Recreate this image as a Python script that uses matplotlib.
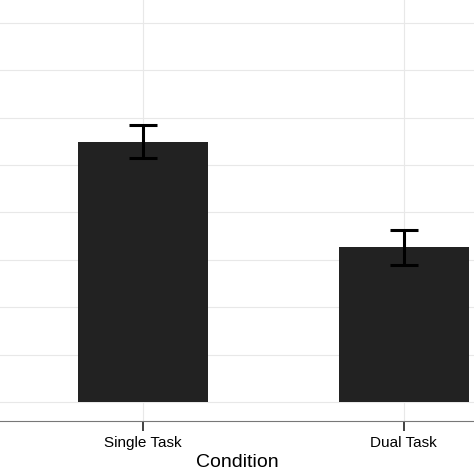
import matplotlib
matplotlib.use("Agg")
import matplotlib.pyplot as plt
import numpy as np

conditions = ["Single Task", "Dual Task"]
means = [5.49, 3.26]
errors = [0.35, 0.36]

fig = plt.figure(figsize=(4.74, 4.74), dpi=100)
ax = fig.add_axes([0, 1 - 421/474, 1, 421/474])
x = np.arange(1, len(conditions) + 1)
ax.bar(x, means, width=0.5, color="#222222", zorder=3)
ax.errorbar(x, means, yerr=errors, fmt="none", ecolor="black", elinewidth=2.2,
            capsize=10, capthick=2.2, zorder=4)
ax.set_xlim(0.45, 2.27)
ax.set_ylim(-0.4, 8.48)
ax.set_yticks(np.arange(0, 9, 1))
ax.set_yticklabels([])
ax.tick_params(axis="y", length=0)
ax.set_xticks(x)
ax.set_xticklabels(conditions, fontsize=11, family="Liberation Sans")
ax.tick_params(axis="x", length=7, width=1.3, color="#333333", pad=4)
ax.grid(True, color="#e8e8e8", linewidth=0.8, zorder=0)
for s in ["top", "right", "left"]:
    ax.spines[s].set_visible(False)
ax.spines["bottom"].set_color("#777777")
ax.set_xlabel("Condition", fontsize=14, family="Liberation Sans", labelpad=3)
fig.savefig("out.png", dpi=100)
